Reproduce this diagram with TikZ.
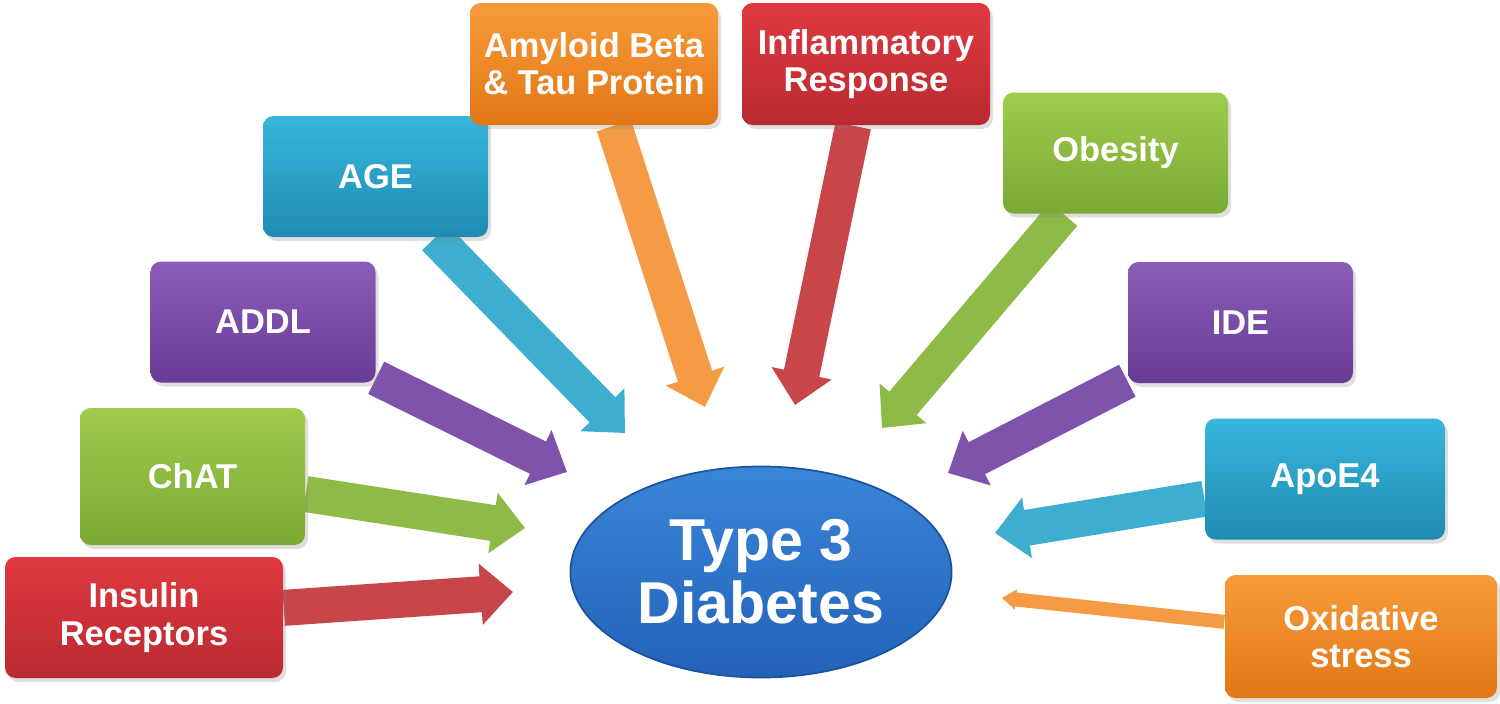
\documentclass[tikz,border=0pt]{standalone}
\usepackage{fontspec}
\setmainfont{Liberation Sans}
\usepackage{tikz}
\usetikzlibrary{arrows.meta}
\usetikzlibrary{backgrounds}
\usetikzlibrary{shadows}
\usetikzlibrary{shapes.geometric}
\definecolor{redtop}{HTML}{DE3A40}
\definecolor{redbot}{HTML}{B92A30}
\definecolor{redarr}{HTML}{C8454A}
\definecolor{greentop}{HTML}{9FCC4C}
\definecolor{greenbot}{HTML}{7AA935}
\definecolor{greenarr}{HTML}{8EBB47}
\definecolor{purpletop}{HTML}{8A5CB8}
\definecolor{purplebot}{HTML}{683C96}
\definecolor{purplearr}{HTML}{7D53AB}
\definecolor{cyantop}{HTML}{38B6DC}
\definecolor{cyanbot}{HTML}{1F8BB3}
\definecolor{cyanarr}{HTML}{3DAECF}
\definecolor{orangetop}{HTML}{F89B3A}
\definecolor{orangebot}{HTML}{E27716}
\definecolor{orangearr}{HTML}{F59B45}
\definecolor{bluetop}{HTML}{3A85D8}
\definecolor{bluebot}{HTML}{2262B8}

\begin{document}
\begin{tikzpicture}[every node/.style={text=white, font=\fontsize{9.8}{10.6}\selectfont\bfseries, align=center},
	box/.style={rectangle, rounded corners=3pt, minimum width=2.25cm, minimum height=1.21cm, drop shadow={opacity=0.25, shadow xshift=0.03cm, shadow yshift=-0.04cm}},
	redbox/.style={box, top color=redtop, bottom color=redbot},
	greenbox/.style={box, top color=greentop, bottom color=greenbot},
	purplebox/.style={box, top color=purpletop, bottom color=purplebot},
	cyanbox/.style={box, top color=cyantop, bottom color=cyanbot},
	orangebox/.style={box, top color=orangetop, bottom color=orangebot},
	fatarrow/.style={line width=0.36cm, -{Triangle[length=0pt 0.9, width=0pt 1.65]}},
	thinarrow/.style={line width=0.14cm, -{Triangle[length=0pt 1.0, width=0pt 1.4]}}]
	
	\useasboundingbox (0,0) rectangle (15,7.03);
	
	\node[ellipse, minimum width=3.72cm, minimum height=2.11cm, top color=bluetop, bottom color=bluebot, draw=bluebot!85!black, line width=0.5pt, font=\fontsize{16.8}{17.9}\selectfont\bfseries] (t3d) at (7.61,1.31) {Type 3\\Diabetes};
	
	\node[redbox, minimum width=2.78cm] (ins) at (1.44,0.855) {Insulin\\Receptors};
	\node[greenbox, minimum height=1.37cm] (chat) at (1.925,2.265) {ChAT};
	\node[purplebox] (addl) at (2.63,3.81) {ADDL};
	\node[cyanbox] (age) at (3.755,5.265) {AGE};
	\node[orangebox, minimum width=2.48cm, minimum height=1.22cm] (amy) at (5.94,6.39) {Amyloid Beta\\\& Tau Protein};
	\node[redbox, minimum width=2.48cm, minimum height=1.22cm] (infl) at (8.66,6.39) {Inflammatory\\Response};
	\node[greenbox] (obes) at (11.155,5.50) {Obesity};
	\node[purplebox] (ide) at (12.405,3.805) {IDE};
	\node[cyanbox, minimum width=2.40cm] (apoe) at (13.25,2.24) {ApoE4};
	\node[orangebox, minimum width=2.72cm, minimum height=1.23cm] (oxid) at (13.61,0.665) {Oxidative\\stress};
	
	\coordinate (insTip) at (5.13,1.11);
	\coordinate (chatTip) at (5.25,1.75);
	\coordinate (addlTip) at (5.67,2.31);
	\coordinate (ageTip) at (6.25,2.70);
	\coordinate (amyTip) at (7.05,2.96);
	\coordinate (inflTip) at (7.95,2.98);
	\coordinate (obesTip) at (8.82,2.75);
	\coordinate (ideTip) at (9.48,2.30);
	\coordinate (apoeTip) at (9.95,1.70);
	\coordinate (oxidTip) at (10.02,1.05);
	
	\begin{scope}[on background layer]
		\draw[fatarrow, redarr] (ins) -- (insTip);
		\draw[fatarrow, greenarr] (chat) -- (chatTip);
		\draw[fatarrow, purplearr] (addl) -- (addlTip);
		\draw[fatarrow, cyanarr] (age) -- (ageTip);
		\draw[fatarrow, orangearr] (amy) -- (amyTip);
		\draw[fatarrow, redarr] (infl) -- (inflTip);
		\draw[fatarrow, greenarr] (obes) -- (obesTip);
		\draw[fatarrow, purplearr] (ide) -- (ideTip);
		\draw[fatarrow, cyanarr] (apoe) -- (apoeTip);
		\draw[thinarrow, orangearr] (oxid) -- (oxidTip);
	\end{scope}
\end{tikzpicture}
\end{document}
